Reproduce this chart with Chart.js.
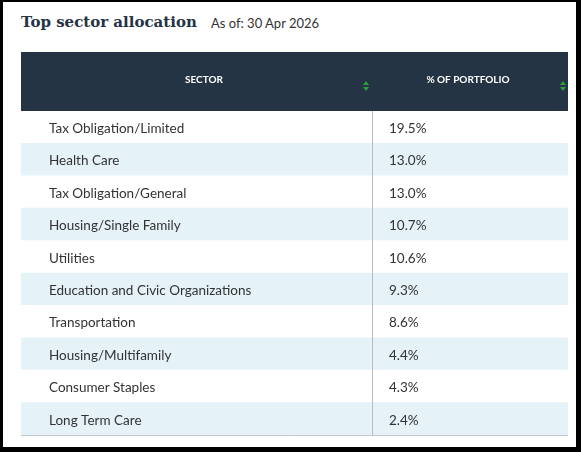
<!DOCTYPE html>
<html lang="en">
<head>
    <meta charset="UTF-8">
    <title>Top sector allocation</title>
    <script src="https://cdn.jsdelivr.net/npm/chart.js"></script>
    <style>
        html, body {
            margin: 0;
            padding: 0;
            background-color: #000;
        }
        #frame {
            position: absolute;
            left: 3px;
            top: 2px;
            width: 573px;
            height: 445px;
            background-color: #fff;
        }
        #title {
            position: absolute;
            left: 18px;
            top: 11px;
            font-family: "DejaVu Serif", serif;
            font-weight: bold;
            font-size: 15px;
            color: #253444;
            white-space: nowrap;
        }
        #asof {
            position: absolute;
            left: 190px;
            top: 2px;
            font-family: Lato, sans-serif;
            font-weight: normal;
            font-size: 13px;
            color: #333;
        }
        #table-box {
            position: absolute;
            left: 18px;
            top: 50px;
            width: 547px;
            height: 384px;
        }
    </style>
</head>
<body>
    <div id="frame">
        <div id="title">Top sector allocation<span id="asof">As of: 30 Apr 2026</span></div>
        <div id="table-box"><canvas id="sectorChart"></canvas></div>
    </div>

    <script>
        // Table data
        const sectors = [
            'Tax Obligation/Limited',
            'Health Care',
            'Tax Obligation/General',
            'Housing/Single Family',
            'Utilities',
            'Education and Civic Organizations',
            'Transportation',
            'Housing/Multifamily',
            'Consumer Staples',
            'Long Term Care'
        ];
        const portfolioPct = [19.5, 13.0, 13.0, 10.7, 10.6, 9.3, 8.6, 4.4, 4.3, 2.4];
        const columnHeaders = ['SECTOR', '% OF PORTFOLIO'];

        const headerHeight = 59;
        const dividerX = 351;

        // draws header row, cell text and grid lines on top of the row stripes
        const tablePlugin = {
            id: 'tablePlugin',
            afterDatasetsDraw(chart) {
                const { ctx, chartArea, scales } = chart;
                const y = scales.y;
                ctx.save();

                // header
                ctx.fillStyle = '#253444';
                ctx.fillRect(chartArea.left, 0, chartArea.right - chartArea.left, headerHeight);
                ctx.fillStyle = '#fff';
                ctx.font = 'bold 10px Lato, sans-serif';
                ctx.textAlign = 'center';
                ctx.textBaseline = 'middle';
                ctx.fillText(columnHeaders[0], 183, 28);
                ctx.fillText(columnHeaders[1], 447, 28);

                // sort arrows
                [345, 542].forEach(ax => {
                    ctx.fillStyle = '#2e9e3a';
                    ctx.beginPath();
                    ctx.moveTo(ax - 3, 33); ctx.lineTo(ax + 3, 33); ctx.lineTo(ax, 29); ctx.closePath();
                    ctx.fill();
                    ctx.beginPath();
                    ctx.moveTo(ax - 3, 35); ctx.lineTo(ax + 3, 35); ctx.lineTo(ax, 39); ctx.closePath();
                    ctx.fill();
                });

                // cells
                ctx.fillStyle = '#333';
                ctx.font = '13.5px Lato, sans-serif';
                ctx.textAlign = 'left';
                sectors.forEach((name, i) => {
                    const py = y.getPixelForValue(i) + 1.5;
                    ctx.fillText(name, 28, py);
                    ctx.fillText(portfolioPct[i].toFixed(1) + '%', 368, py);
                });

                // column divider and bottom rule
                ctx.strokeStyle = '#b8bcc0';
                ctx.lineWidth = 1;
                ctx.beginPath();
                ctx.moveTo(dividerX + 0.5, chartArea.top);
                ctx.lineTo(dividerX + 0.5, chartArea.bottom);
                ctx.stroke();
                ctx.strokeStyle = '#c4c8cc';
                ctx.beginPath();
                ctx.moveTo(chartArea.left, chartArea.bottom + 0.5);
                ctx.lineTo(chartArea.right, chartArea.bottom + 0.5);
                ctx.stroke();
                ctx.restore();
            }
        };

        new Chart(document.getElementById('sectorChart'), {
            type: 'bar',
            data: {
                labels: sectors,
                datasets: [{
                    label: '% of portfolio',
                    data: sectors.map(() => 1),
                    backgroundColor: sectors.map((s, i) => i % 2 === 0 ? '#ffffff' : '#e5f2f7'),
                    barPercentage: 1,
                    categoryPercentage: 1,
                    borderWidth: 0
                }]
            },
            options: {
                indexAxis: 'y',
                responsive: true,
                maintainAspectRatio: false,
                animation: false,
                layout: { padding: { top: headerHeight, bottom: 1, left: 0, right: 0 } },
                plugins: {
                    legend: { display: false },
                    tooltip: { enabled: false }
                },
                scales: {
                    x: { display: false, min: 0, max: 1 },
                    y: { display: false }
                }
            },
            plugins: [tablePlugin]
        });
    </script>
</body>
</html>
